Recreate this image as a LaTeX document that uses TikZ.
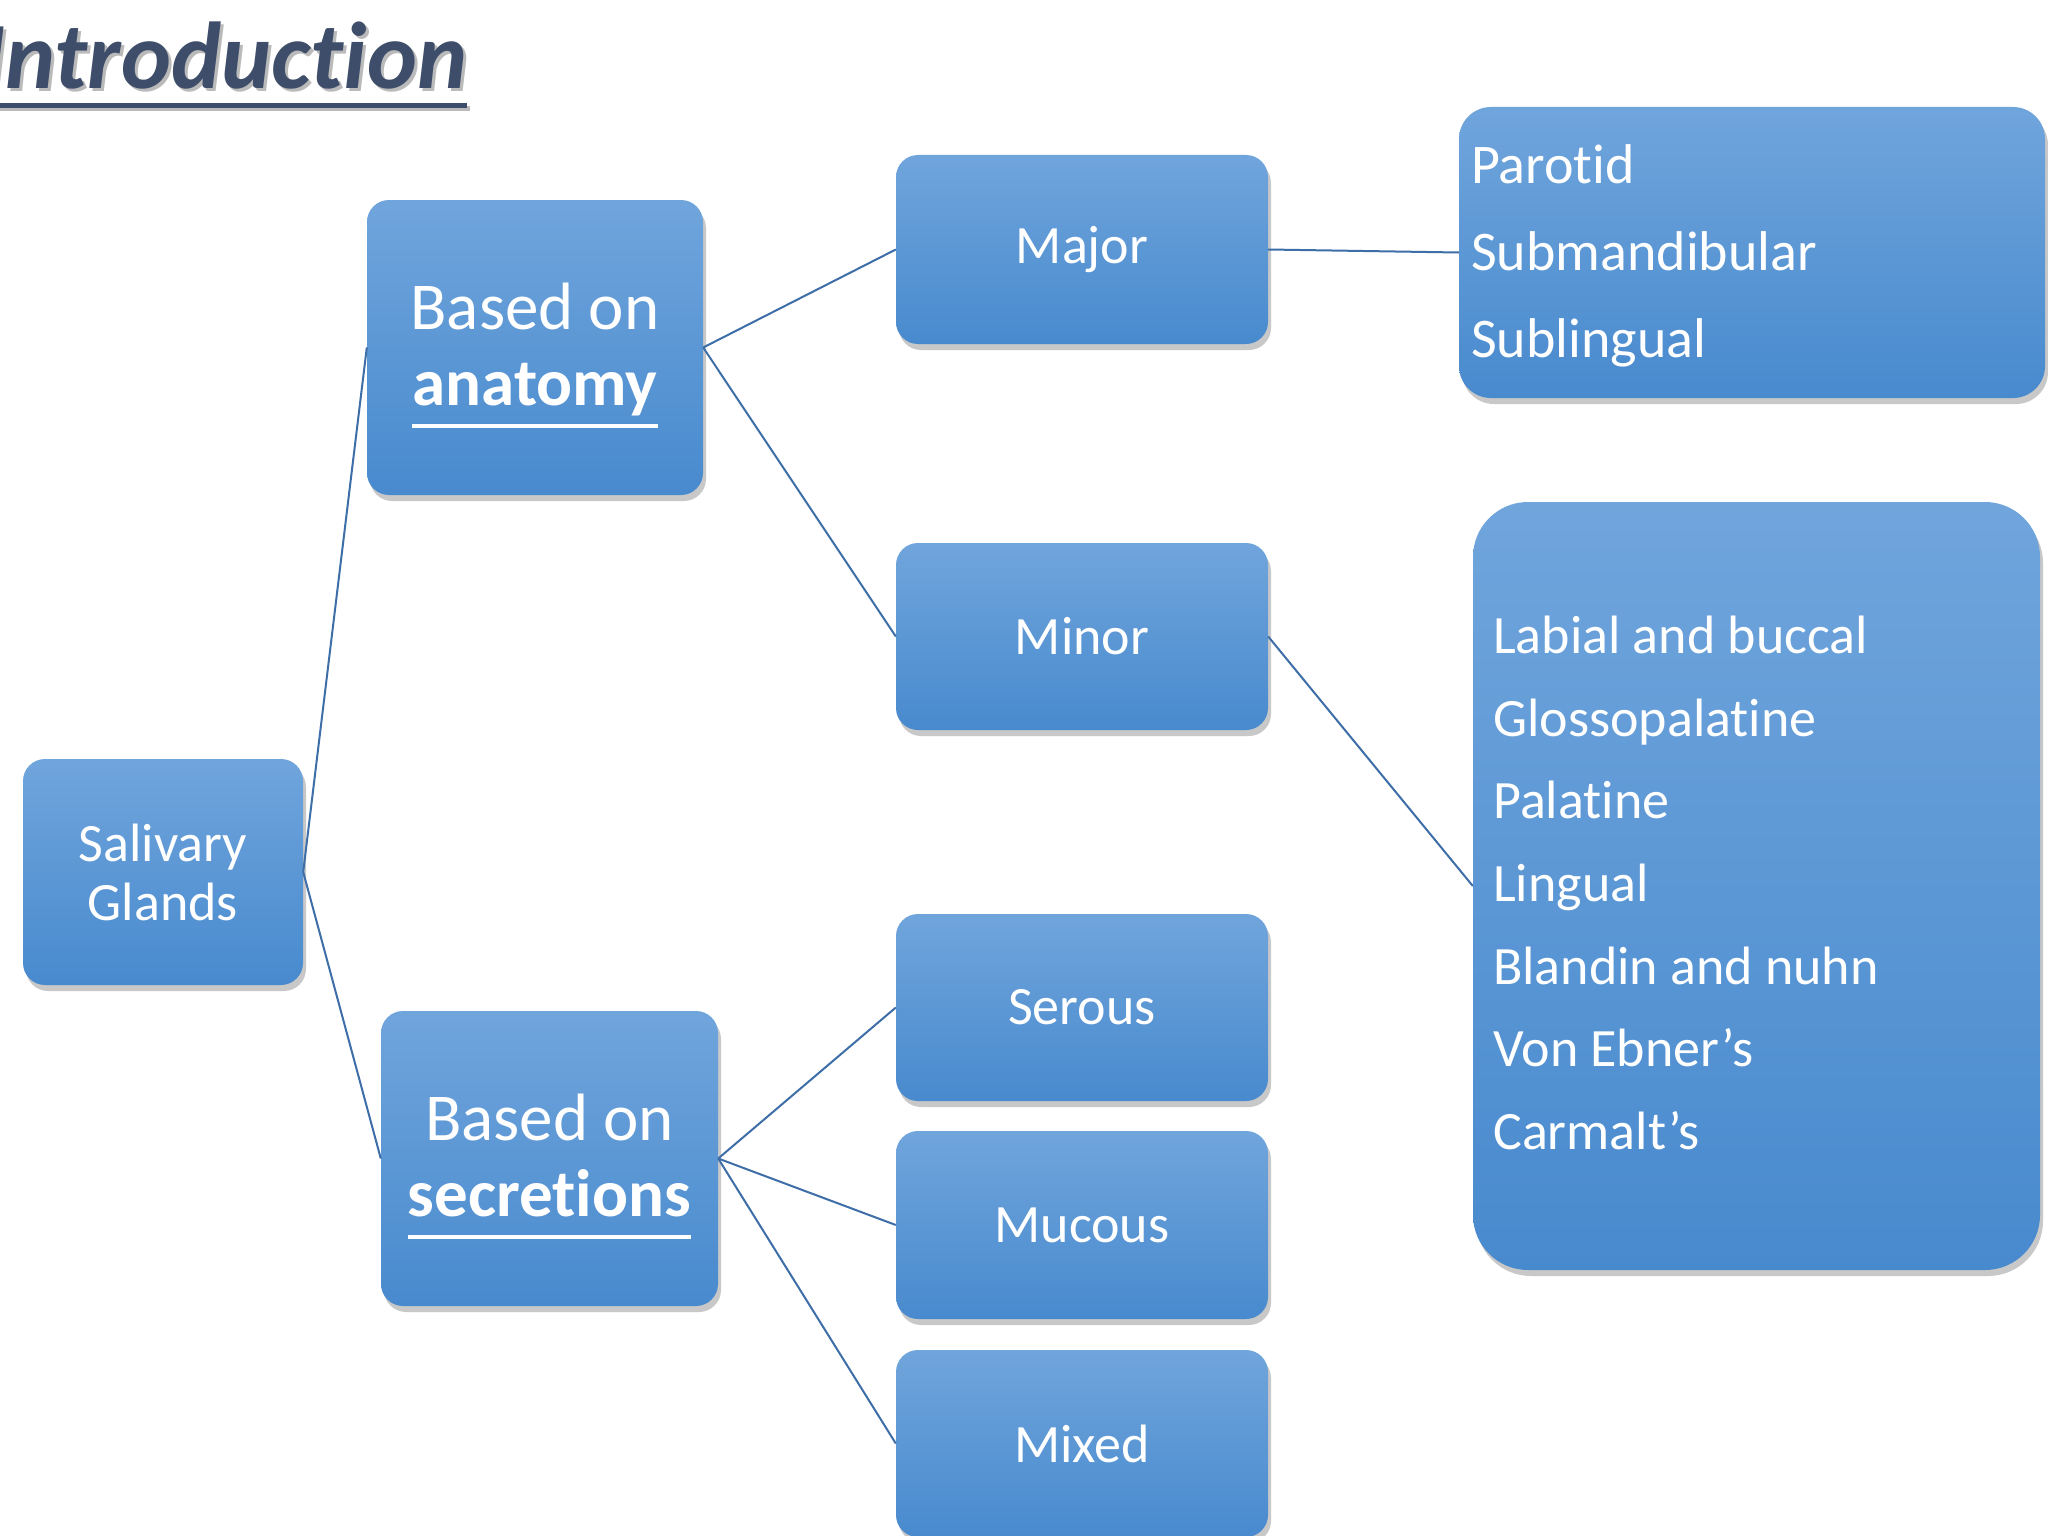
\documentclass[tikz,border=0pt]{standalone}
\usepackage{fontspec}
\setmainfont[Ligatures={TeX,NoCommon}]{Carlito}
\usetikzlibrary{shadows}
\definecolor{boxtop}{RGB}{112,165,220}
\definecolor{boxbot}{RGB}{72,138,206}
\definecolor{linkc}{RGB}{62,110,168}
\definecolor{titlec}{RGB}{62,78,106}
\newcommand\myul[3]{\setbox0\hbox{#3}\rlap{\rule[#1]{\wd0}{#2}}\box0}
\newcommand\nl{\kern0pt}
\begin{document}
\begin{tikzpicture}[x=1pt,y=-1pt,
  gbox/.style={rectangle, rounded corners=22pt, top color=boxtop, bottom color=boxbot,
    draw=none, text=white, align=center, inner sep=0pt,
    drop shadow={shadow xshift=3pt, shadow yshift=-6pt, opacity=0.3, fill=black!70}},
  midbox/.style={gbox, minimum width=372pt, font=\fontsize{54}{59}\selectfont},
  bigbox/.style={gbox, font=\fontsize{67}{76}\selectfont},
  listtext/.style={anchor=base west, text=white, inner sep=0pt},
  link/.style={draw=linkc, line width=2pt}]
\useasboundingbox[fill=white] (0,0) rectangle (2048,1536);
% title
\node[anchor=base west, inner sep=0pt, text=black!45, opacity=0.6,
  font=\fontsize{95}{95}\selectfont\bfseries\itshape] (titleshadow) at (-17,92)
  {\myul{-0.2em}{0.055em}{Introduct\nl ion}};
\node[anchor=base west, inner sep=0pt, text=titlec,
  font=\fontsize{95}{95}\selectfont\bfseries\itshape] (title) at (-20,89)
  {\myul{-0.2em}{0.055em}{Introduct\nl ion}};
% boxes
\node[gbox, minimum width=280pt, minimum height=226pt, font=\fontsize{54}{59}\selectfont]
  (sal) at (163,872) {Salivary\\Glands};
\node[bigbox, minimum width=336pt, minimum height=295pt] (anat) at (535,347.5)
  {\rule{0pt}{63pt}Based on\\\textbf{\myul{-0.33em}{0.06em}{anatomy}}};
\node[bigbox, minimum width=337pt, minimum height=295pt] (secr) at (549.5,1158.5)
  {\rule{0pt}{63pt}Based on\\\textbf{\myul{-0.33em}{0.06em}{secret\nl ions}}};
\node[midbox, minimum height=189pt] (major) at (1082,249.5) {Major};
\node[midbox, minimum height=187pt] (minor) at (1082,636.5) {Minor};
\node[midbox, minimum height=187pt] (serous) at (1082,1007.5) {Serous};
\node[midbox, minimum height=188pt] (mucous) at (1082,1225) {Mucous};
\node[midbox, minimum height=187pt] (mixed) at (1082,1443.5) {Mixed};
\node[gbox, rounded corners=32pt, minimum width=586pt, minimum height=291pt] (parbox) at (1752,252.5) {};
\node[gbox, rounded corners=55pt, minimum width=567pt, minimum height=768pt] (listbox) at (1756.5,886) {};
% list texts
\begin{scope}[font=\fontsize{56}{56}\selectfont]
\node[listtext] (t1) at (1471,183) {Parot\nl id};
\node[listtext] (t2) at (1471,270) {Submandibular};
\node[listtext] (t3) at (1471,357) {Sublingual};
\end{scope}
\begin{scope}[font=\fontsize{54}{54}\selectfont]
\node[listtext] (l1) at (1493,653) {Labial and buccal};
\node[listtext] (l2) at (1493,736) {Glossopalat\nl ine};
\node[listtext] (l3) at (1493,818) {Palat\nl ine};
\node[listtext] (l4) at (1493,901) {Lingual};
\node[listtext] (l5) at (1493,984) {Blandin and nuhn};
\node[listtext] (l6) at (1493,1066) {Von Ebner’s};
\node[listtext] (l7) at (1493,1149) {Carmalt’s};
\end{scope}
% connectors
\draw[link] (sal.east) -- (anat.west);
\draw[link] (sal.east) -- (secr.west);
\draw[link] (anat.east) -- (major.west);
\draw[link] (anat.east) -- (minor.west);
\draw[link] (major.east) -- (parbox.west);
\draw[link] (minor.east) -- (listbox.west);
\draw[link] (secr.east) -- (serous.west);
\draw[link] (secr.east) -- (mucous.west);
\draw[link] (secr.east) -- (mixed.west);
\end{tikzpicture}
\end{document}
